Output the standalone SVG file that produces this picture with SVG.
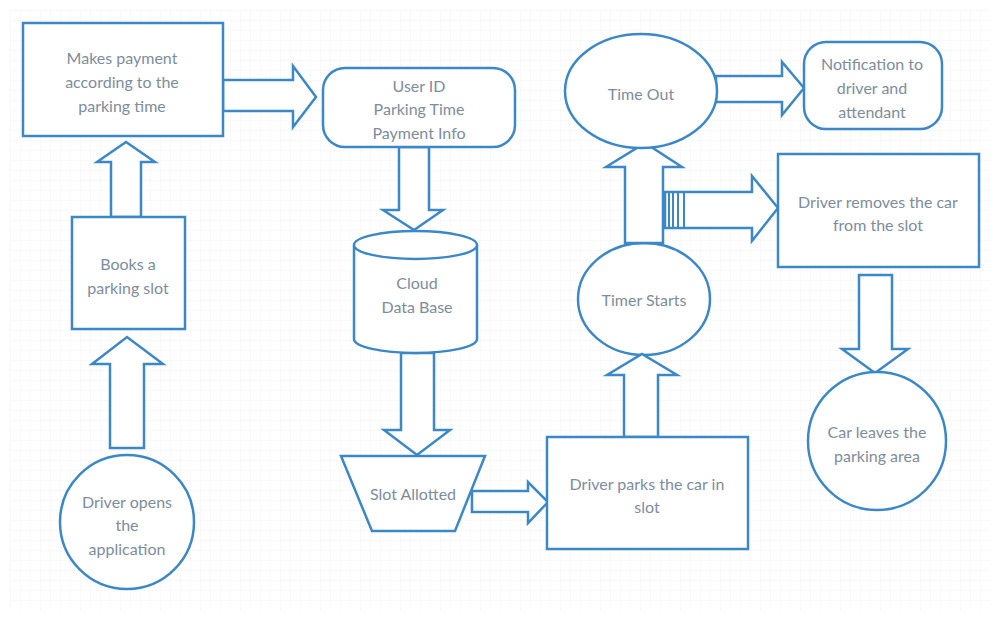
<svg xmlns="http://www.w3.org/2000/svg" width="997" height="627" viewBox="0 0 997 627">
<style>
.s{fill:#fff;stroke:#3c88c6;stroke-width:2.5}
.a{fill:#fff;stroke:#3c88c6;stroke-width:2.5;stroke-linejoin:miter}
.t{font-family:Lato,"Open Sans","Liberation Sans",sans-serif;font-size:16px;fill:#7d8d9c;text-anchor:middle;dominant-baseline:central}
</style>
<defs>
<pattern id="grid" width="10" height="10" patternUnits="userSpaceOnUse">
<path d="M10 0H0V10" fill="none" stroke="#f3f4f6" stroke-width="1"/>
</pattern>
</defs>
<rect width="997" height="627" fill="#fff"/>
<rect x="10" y="10" width="980" height="600" fill="url(#grid)"/>

<g id="connectors">
<polygon class="a" points="223,80 293,80 293,66 316,97 293,127 293,111 223,111"/>
<polygon class="a" points="111,217 111,162 97,162 126,142 155,162 141,162 141,217"/>
<polygon class="a" points="110,448 110,364 92,364 127,337 163,364 144,364 144,448"/>
<polygon class="a" points="399,147 399,210 383,210 414,230 443,210 429,210 429,147"/>
<polygon class="a" points="401,353 401,430 384,430 417,455 450,430 434,430 434,353"/>
<polygon class="a" points="472,491 528,491 528,482 548,502 528,523 528,512 472,512"/>
<polygon class="a" points="716,76 782,76 782,62 804,88 782,115 782,102 716,102"/>
<polygon class="a" points="859,275 859,349 842,349 875,373 908,349 892,349 892,275"/>
</g>

<g id="timer-starts">
<ellipse class="s" cx="644" cy="299" rx="66" ry="56"/>
<text class="t" x="644" y="299">Timer Starts</text>
</g>

<g id="connectors-2">
<polygon class="a" points="624,437 624,375 607,375 642,354 677,375 658,375 658,437"/>
<polygon class="a" points="625,243 625,167 606,167 645,143 682,167 663,167 663,243"/>
<polygon class="a" points="665,192 752,192 752,176 778,208 752,241 752,228 665,228"/>
<g stroke="#3c88c6" stroke-width="2">
<line x1="669" y1="193" x2="669" y2="227"/>
<line x1="673" y1="193" x2="673" y2="227"/>
<line x1="678" y1="193" x2="678" y2="227"/>
<line x1="684" y1="193" x2="684" y2="227"/>
</g>
</g>

<g id="makes-payment">
<rect class="s" x="23" y="23" width="200" height="113"/>
<text class="t" x="122" y="57">Makes payment</text>
<text class="t" x="122" y="81">according to the</text>
<text class="t" x="122" y="105">parking time</text>
</g>

<g id="books-slot">
<rect class="s" x="72" y="217" width="113" height="112"/>
<text class="t" x="128" y="263">Books a</text>
<text class="t" x="128" y="287">parking slot</text>
</g>

<g id="driver-opens">
<circle class="s" cx="127" cy="522" r="67"/>
<text class="t" x="127" y="501">Driver opens</text>
<text class="t" x="127" y="524">the</text>
<text class="t" x="127" y="548">application</text>
</g>

<g id="user-info">
<rect class="s" x="323" y="68" width="192" height="79" rx="22" ry="22"/>
<text class="t" x="419" y="85">User ID</text>
<text class="t" x="419" y="108">Parking Time</text>
<text class="t" x="419" y="132">Payment Info</text>
</g>

<g id="cloud-db">
<path class="s" d="M354,245 V339 A61.5,14 0 0 0 477,339 V245 A61.5,14 0 0 0 354,245 Z"/>
<path class="s" fill="none" d="M354,245 A61.5,14 0 0 0 477,245"/>
<text class="t" x="417" y="282">Cloud</text>
<text class="t" x="417" y="306">Data Base</text>
</g>

<g id="slot-allotted">
<polygon class="s" points="341,456 485,456 455,531 372,531"/>
<text class="t" x="413" y="493">Slot Allotted</text>
</g>

<g id="driver-parks">
<rect class="s" x="547" y="437" width="201" height="112"/>
<text class="t" x="647" y="483">Driver parks the car in</text>
<text class="t" x="647" y="506">slot</text>
</g>

<g id="time-out">
<ellipse class="s" cx="641" cy="91" rx="76" ry="57"/>
<text class="t" x="641" y="93">Time Out</text>
</g>

<g id="notification">
<rect class="s" x="804" y="42" width="138" height="87" rx="22" ry="22"/>
<text class="t" x="872" y="63">Notification to</text>
<text class="t" x="872" y="87">driver and</text>
<text class="t" x="872" y="111">attendant</text>
</g>

<g id="driver-removes">
<rect class="s" x="778" y="154" width="201" height="113"/>
<text class="t" x="878" y="201">Driver removes the car</text>
<text class="t" x="878" y="224">from the slot</text>
</g>

<g id="car-leaves">
<circle class="s" cx="877" cy="441" r="69"/>
<text class="t" x="877" y="431">Car leaves the</text>
<text class="t" x="877" y="455">parking area</text>
</g>
</svg>
